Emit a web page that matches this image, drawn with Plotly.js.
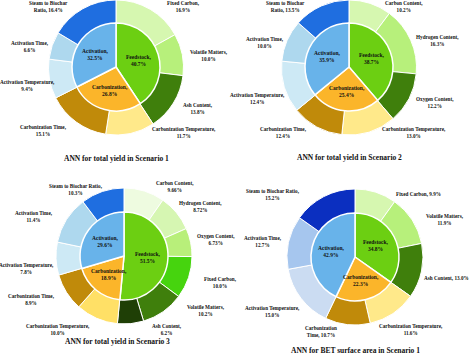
<!DOCTYPE html>
<html><head><meta charset="utf-8">
<script src="https://cdn.plot.ly/plotly-3.0.1.min.js"></script>
<style>body{margin:0;background:#fff}#c{width:474px;height:355px}</style>
</head><body><div id="c"></div>
<script>
// ---------- data ----------
const groups = ["Feedstock", "Carbonization", "Activation"];

const s1Title = "ANN for total yield in Scenario 1";
const s1Group = [40.7, 26.8, 32.5];
const s1Names = ["Fixed Carbon", "Volatile Matters", "Ash Content", "Carbonization Temperature", "Carbonization Time", "Activation Temperature", "Activation Time", "Steam to Biochar<br>Ratio"];
const s1Values = [16.9, 10.0, 13.8, 11.7, 15.1, 9.4, 6.6, 16.4];
const s1Sep = [",<br>", ",<br>", ",<br>", ",<br>", ",<br>", ",<br>", ",<br>", ", "];

const s2Title = "ANN for total yield in Scenario 2";
const s2Group = [38.7, 25.4, 35.9];
const s2Names = ["Carbon Content", "Hydrogen Content", "Oxygen Content", "Carbonization Temperature", "Carbonization Time", "Activation Temperature", "Activation Time", "Steam to Biochar<br>Ratio"];
const s2Values = [10.2, 16.3, 12.2, 13.0, 12.4, 12.4, 10.0, 13.5];
const s2Sep = [",<br>", ",<br>", ",<br>", ",<br>", ",<br>", ",<br>", ",<br>", ", "];

const s3Title = "ANN for total yield in Scenario 3";
const s3Group = [51.5, 18.9, 29.6];
const s3Names = ["Carbon Content", "Hydrogen Content", "Oxygen Content", "Fixed Carbon", "Volatile Matters", "Ash Content", "Carbonization Temperature", "Carbonization Time", "Activation Temperature", "Activation Time", "Steam to Biochar Ratio"];
const s3Values = [9.66, 8.72, 6.73, 10.0, 10.2, 6.2, 10.0, 8.9, 7.8, 11.4, 10.3];
const s3Sep = [",<br>", ",<br>", ",<br>", ",<br>", ",<br>", ",<br>", ",<br>", ",<br>", ",<br>", ",<br>", ",<br>"];

const s4Title = "ANN for BET surface area in Scenario 1";
const s4Group = [34.8, 22.3, 42.9];
const s4Names = ["Fixed Carbon", "Volatile Matters", "Ash Content", "Carbonization Temperature", "Carbonization<br>Time", "Activation Temperature", "Activation Time", "Steam to Biochar Ratio"];
const s4Values = [9.9, 11.9, 13.0, 11.6, 10.7, 15.0, 12.7, 15.2];
const s4Sep = [", ", ",<br>", ", ", ",<br>", ", ", ",<br>", ",<br>", ",<br>"];

// ---------- colours ----------
const groupColors = ["#6ccf12", "#fbb52a", "#68b3ea"];
const s1Colors = ["#d6f7b0", "#b7f07b", "#3f7f0c", "#ffe98a", "#c08a0a", "#cde9f5", "#aed8ee", "#1f6ee0"];
const s2Colors = ["#d6f7b0", "#b7f07b", "#3f7f0c", "#ffe98a", "#c08a0a", "#cde9f5", "#aed8ee", "#1f6ee0"];
const s3Colors = ["#eefbe0", "#d6f6b2", "#b8ef7a", "#46d40e", "#3f7f0c", "#1f3f06", "#ffe066", "#c08a0a", "#cde9f5", "#aed8ee", "#1f6ee0"];
const s4Colors = ["#d6f7b0", "#b7f07b", "#3f7f0c", "#ffe98a", "#c08a0a", "#cbdcf2", "#a6c6ee", "#0b2fc0"];

// ---------- label layout: small pixel nudges of the computed label anchors ----------
const nudge1 = [[15, 0], [0, 3], [3, 3], [0, 0], [-4, 4], [13, 6], [4, 3], [-12, 0]];
const nudge2 = [[0, 0], [-2, 3], [0, 2], [-3, 0], [-6, 0], [8, 10], [4, 4], [-8, 0]];
const nudge3 = [[-4, -4], [-3, -3], [0, -2], [9, 3], [19, -5], [-8, 7], [2, 7], [-5, 4], [5, 10], [-7, 0], [15, 0]];
const nudge4 = [[5, 3], [8, 2], [-4, 6], [-12, 6], [18, 8], [5, 10], [0, 0], [-19, 3]];

// ---------- helpers ----------
const W = 474, H = 355;
const FONT = "Liberation Serif, Times New Roman, serif";
function fmt(v) {
  return Math.abs(v * 10 - Math.round(v * 10)) < 1e-6 ? v.toFixed(1) : v.toFixed(2);
}
function dom(cx, cy, r) {
  return { x: [(cx - r) / W, (cx + r) / W], y: [1 - (cy + r) / H, 1 - (cy - r) / H] };
}
// mid-angles (radians, clockwise from 12 o'clock) of each slice, derived from the values
function midAngles(vals) {
  const tot = vals.reduce((a, b) => a + b, 0);
  let acc = 0;
  return vals.map(v => { const m = (acc + v / 2) / tot * 2 * Math.PI; acc += v; return m; });
}
const traces = [];
const annotations = [];
function ann(text, x, y, xanchor, size) {
  annotations.push({
    text: text, x: x / W, y: 1 - y / H, xref: "paper", yref: "paper", showarrow: false,
    xanchor: xanchor, yanchor: "middle", align: "center",
    font: { family: FONT, size: size, color: "#111" }
  });
}
function panel(cx, cy, title, tx, ty, gVals, names, vals, seps, cols, nudge) {
  const R = 68, r = 44;
  traces.push({
    type: "pie", values: vals, labels: names.map((n, i) => "o" + i + n), textinfo: "none",
    sort: false, direction: "clockwise", rotation: 0, hole: 0.6,
    marker: { colors: cols, line: { color: "#ffffff", width: 1 } },
    domain: dom(cx, cy, R), hoverinfo: "none", showlegend: false
  });
  traces.push({
    type: "pie", values: gVals, labels: groups, textinfo: "none",
    sort: false, direction: "clockwise", rotation: 0,
    marker: { colors: groupColors, line: { color: "#ffffff", width: 1.5 } },
    domain: dom(cx, cy, r), hoverinfo: "none", showlegend: false
  });
  // outer labels
  midAngles(vals).forEach((a, i) => {
    const s = Math.sin(a), c = -Math.cos(a);
    let x = cx + (R + 5) * s, y = cy + (R + 5) * c;
    if (Math.abs(y - cy) > R - 8) {
      y = Math.max(cy + (c < 0 ? -1 : 1) * (R - 2), 7);
      x = cx + (s < 0 ? -1 : 1) * 34;
    }
    ann("<b>" + names[i] + seps[i] + fmt(vals[i]) + "%</b>", x + nudge[i][0], y + nudge[i][1], s < 0 ? "right" : "left", 5.2);
  });
  // inner labels
  midAngles(gVals).forEach((a, i) => {
    const x = cx + 0.55 * r * Math.sin(a), y = cy - 0.55 * r * Math.cos(a);
    ann("<b>" + groups[i] + ",<br>" + fmt(gVals[i]) + "%</b>", x, y, "center", 5.5);
  });
  annotations.push({
    text: "<b>" + title + "</b>", x: tx / W, y: 1 - ty / H, xref: "paper", yref: "paper",
    showarrow: false, font: { family: FONT, size: 7.5, color: "#111" }, xanchor: "center", yanchor: "middle"
  });
}
panel(116, 67, s1Title, 116, 158, s1Group, s1Names, s1Values, s1Sep, s1Colors, nudge1);
panel(349, 67, s2Title, 349, 157, s2Group, s2Names, s2Values, s2Sep, s2Colors, nudge2);
panel(124, 256, s3Title, 117, 341, s3Group, s3Names, s3Values, s3Sep, s3Colors, nudge3);
panel(355, 257, s4Title, 355, 350, s4Group, s4Names, s4Values, s4Sep, s4Colors, nudge4);

Plotly.newPlot("c", traces, {
  width: W, height: H, margin: { l: 0, r: 0, t: 0, b: 0 },
  paper_bgcolor: "#ffffff", annotations: annotations, showlegend: false
}, { staticPlot: true, displayModeBar: false });
</script></body></html>
